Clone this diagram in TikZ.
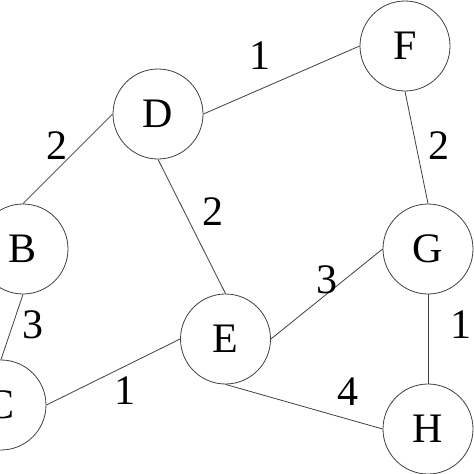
\documentclass[tikz,border=0pt]{standalone}
\usepackage{fontspec}
\setmainfont{Liberation Serif}
\begin{document}
\begin{tikzpicture}[x=1pt,y=-1pt,
  vert/.style={circle,draw=black!75,line width=0.8pt,minimum size=90pt,inner sep=0pt,font=\fontsize{42}{42}\selectfont},
  wlabel/.style={inner sep=0pt,font=\fontsize{42}{42}\selectfont},
  edge/.style={draw=black!75,line width=0.8pt}]
\useasboundingbox (0,0) rectangle (474,474);
\clip (0,0) rectangle (474,474);
\fill[white] (0,0) rectangle (474,474);
\node[vert] (D) at (158,114) {D};
\node[vert] (F) at (405,46) {F};
\node[vert] (B) at (23,249) {B};
\node[vert] (G) at (428,249) {G};
\node[vert] (E) at (225.5,339) {E};
\node[vert] (C) at (1,405) {C};
\node[vert] (H) at (428,429) {H};
\draw[edge] (B.north) -- (D.west);
\draw[edge] (D.east) -- (F.west);
\draw[edge] (D.south) -- (E.north);
\draw[edge] (F.south) -- (G.north);
\draw[edge] (B.south) -- (C.north);
\draw[edge] (C.east) -- (E.west);
\draw[edge] (E.east) -- (G.west);
\draw[edge] (E.south) -- (H.west);
\draw[edge] (G.south) -- (H.north);
\node[wlabel] (lDF) at (260,56) {1};
\node[wlabel] (lBD) at (57,146) {2};
\node[wlabel] (lDE) at (213,212) {2};
\node[wlabel] (lFG) at (439,146) {2};
\node[wlabel] (lBC) at (33,325) {3};
\node[wlabel] (lEG) at (327,280) {3};
\node[wlabel] (lGH) at (461,325) {1};
\node[wlabel] (lCE) at (125,391) {1};
\node[wlabel] (lEH) at (348,392) {4};
\end{tikzpicture}
\end{document}
